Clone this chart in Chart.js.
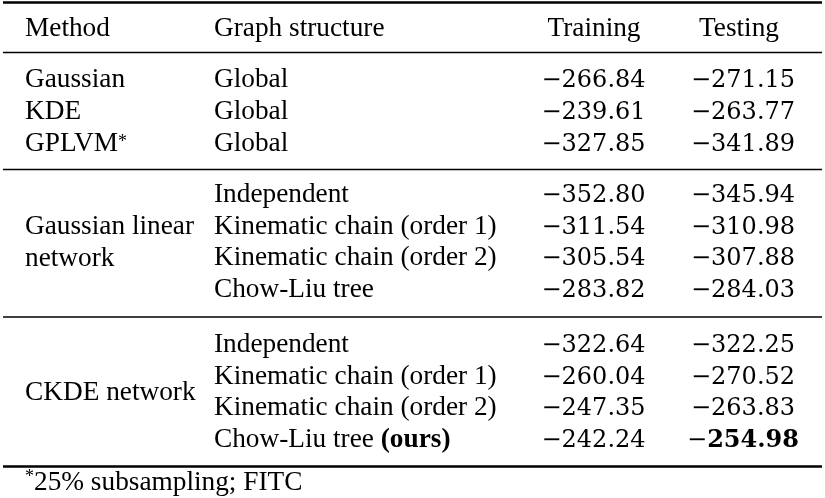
<!DOCTYPE html>
<html><head><meta charset="utf-8">
<script src="https://cdn.jsdelivr.net/npm/chart.js@4.4.1/dist/chart.umd.min.js"></script>
<style>html,body{margin:0;padding:0;background:#fff}#wrap{width:825px;height:498px;position:relative}</style>
</head><body><div id="wrap"><canvas id="c"></canvas></div>
<script>
// ---------- data ----------
const headers = ['Method', 'Graph structure', 'Training', 'Testing'];
const methods = ['Gaussian', 'KDE', 'GPLVM', 'Gaussian linear\nnetwork', 'CKDE network'];
const methodMark = ['', '', '*', '', ''];
const structures = ['Global', 'Global', 'Global',
  'Independent', 'Kinematic chain (order 1)', 'Kinematic chain (order 2)', 'Chow-Liu tree',
  'Independent', 'Kinematic chain (order 1)', 'Kinematic chain (order 2)', 'Chow-Liu tree'];
const structureNote = ['', '', '', '', '', '', '', '', '', '', ' (ours)'];
const training = [-266.84, -239.61, -327.85, -352.80, -311.54, -305.54, -283.82, -322.64, -260.04, -247.35, -242.24];
const testing = [-271.15, -263.77, -341.89, -345.94, -310.98, -307.88, -284.03, -322.25, -270.52, -263.83, -254.98];
const footnoteMark = '*';
const footnote = '25% subsampling; FITC';

// ---------- layout & style ----------
const W = 825, H = 498;
const SERIF = '"Liberation Serif","Times New Roman",serif';
const MATH = '"DejaVu Serif",serif';
const F_TXT = '27.3px ' + SERIF, F_TXT_B = 'bold 27.3px ' + SERIF;
const F_NUM = '24px ' + MATH, F_NUM_B = 'bold 24px ' + MATH;
const F_SUP = '18px ' + SERIF;
const colX = [25, 214, 593.5, 743];
const headerAlign = ['left', 'left', 'center', 'center'];
const headerX = [25, 214, 594, 739];
const headerY = 36;
const rowY = [87, 119, 151, 202.3, 233.8, 265.3, 296.8, 352.3, 383.8, 415.3, 446.8];
const methodY = [[87], [119], [151], [234, 266], [400]];
const rules = [{ y: 2.5, w: 2.6 }, { y: 52.5, w: 1.3 }, { y: 169.5, w: 1.3 }, { y: 317, w: 1.3 }, { y: 466.5, w: 2.6 }];
const ruleX = [3, 822];
const footY = 490;

const fmt = v => (v < 0 ? '\u2212' : '') + Math.abs(v).toFixed(2);
const bestTest = testing.indexOf(Math.max(...testing));

// ---------- datasets ----------
const datasets = [];
rules.forEach(r => datasets.push({
  data: ruleX.map(x => ({ x, y: r.y })), showLine: true, borderColor: '#000',
  borderWidth: r.w, pointRadius: 0, clip: false
}));
function textSet(points, cells, align) {
  return { data: points, cells, align, showLine: false, pointRadius: 0, borderWidth: 0, clip: false };
}
datasets.push(textSet(headerX.map(x => ({ x, y: headerY })), headers.map(h => [{ t: h, font: F_TXT }]), 'left'));
datasets[datasets.length - 1].alignEach = headerAlign;
const mPts = [], mCells = [];
methods.forEach((m, i) => {
  m.split('\n').forEach((line, k) => {
    mPts.push({ x: colX[0], y: methodY[i][k] });
    const segs = [{ t: line, font: F_TXT }];
    if (methodMark[i]) segs.push({ t: methodMark[i], font: F_SUP, dy: -4 });
    mCells.push(segs);
  });
});
datasets.push(textSet(mPts, mCells, 'left'));
datasets.push(textSet(structures.map((s, i) => ({ x: colX[1], y: rowY[i] })),
  structures.map((s, i) => structureNote[i] ? [{ t: s, font: F_TXT }, { t: structureNote[i].slice(0, 1), font: F_TXT }, { t: structureNote[i].slice(1), font: F_TXT_B }] : [{ t: s, font: F_TXT }]), 'left'));
datasets.push(textSet(training.map((v, i) => ({ x: colX[2], y: rowY[i] })),
  training.map(v => [{ t: fmt(v), font: F_NUM }]), 'center'));
datasets.push(textSet(testing.map((v, i) => ({ x: colX[3], y: rowY[i] })),
  testing.map((v, i) => i === bestTest ? [{ t: '\u2212', font: F_NUM }, { t: fmt(v).slice(1), font: F_NUM_B }] : [{ t: fmt(v), font: F_NUM }]), 'center'));
datasets.push(textSet([{ x: colX[0], y: footY }], [[{ t: footnoteMark, font: F_SUP, dy: -8 }, { t: footnote, font: F_TXT }]], 'left'));

const textPlugin = {
  id: 'cellText',
  afterDatasetsDraw(chart) {
    const ctx = chart.ctx;
    chart.data.datasets.forEach((ds, i) => {
      if (!ds.cells) return;
      const meta = chart.getDatasetMeta(i);
      meta.data.forEach((pt, j) => {
        const segs = ds.cells[j];
        ctx.save();
        ctx.textBaseline = 'alphabetic';
        ctx.textAlign = 'left';
        ctx.fillStyle = '#000';
        let total = 0;
        segs.forEach(s => { ctx.font = s.font; s.w = ctx.measureText(s.t).width; total += s.w; });
        const align = ds.alignEach ? ds.alignEach[j] : ds.align;
        let x = pt.x;
        if (align === 'center') x -= total / 2; else if (align === 'right') x -= total;
        segs.forEach(s => { ctx.font = s.font; ctx.fillText(s.t, x, pt.y + (s.dy || 0)); x += s.w; });
        ctx.restore();
      });
    });
  }
};

new Chart(document.getElementById('c'), {
  type: 'scatter',
  data: { datasets },
  options: {
    responsive: true, maintainAspectRatio: false, animation: false, events: [],
    layout: { padding: 0 },
    plugins: { legend: { display: false }, tooltip: { enabled: false } },
    scales: {
      x: { type: 'linear', min: 0, max: W, display: false },
      y: { type: 'linear', min: 0, max: H, reverse: true, display: false }
    }
  },
  plugins: [textPlugin]
});
</script></body></html>
